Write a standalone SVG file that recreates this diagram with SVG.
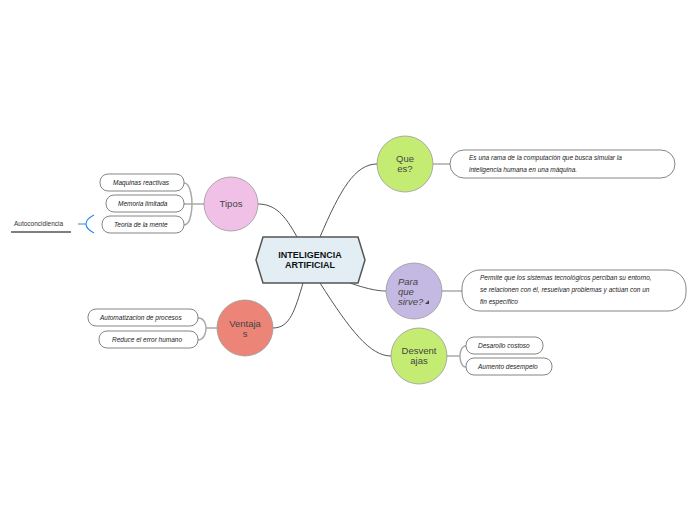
<svg xmlns="http://www.w3.org/2000/svg" width="696" height="520" viewBox="0 0 696 520">
<style>
text{font-family:"Liberation Sans",Arial,sans-serif}
.n{font-size:9.5px;fill:#444;text-anchor:middle}
.l{font-size:6.5px;font-style:italic;fill:#222}
.leaf{fill:#fff;stroke:#666;stroke-width:0.8}
.c{fill:none;stroke:#555;stroke-width:1}
.g{fill:none;stroke:#aaa;stroke-width:1.5}
.circ{stroke:#999;stroke-width:0.8}
</style>
<rect width="696" height="520" fill="#fff"/>
<g id="connectors">
<path class="c" d="M320,237 C340,190 355,164 377,164"/>
<path class="c" d="M350,283 C370,290 380,291 386,291"/>
<path class="c" d="M320,283 C350,330 370,356 391,356"/>
<path class="c" d="M297,237 C285,215 275,204 258,204"/>
<path class="c" d="M303,283 C295,310 290,328 273,328"/>
<path class="g" d="M433,164 H450"/>
<path class="g" d="M442,291 H462"/>
<path class="g" d="M447,356 H460 M466,346 C460,346 460,356 460,356 C460,356 460,367 466,367"/>
<path class="g" d="M204,204 H184 M184,183 C192,183 192,204 192,204 C192,204 192,225 184,225"/>
<path class="g" d="M217,328 H206 M198,318 C206,318 206,328 206,328 C206,328 206,340 198,340"/>
<path d="M78,224 H86 M94,215 C88,218 86,222 86,224 C86,226 88,230 94,233" fill="none" stroke="#2a8cf0" stroke-width="1.2"/>
</g>
<g id="center"><polygon points="263,237 358,237 365,260 358,283 263,283 256,260" fill="#e2eef4" stroke="#555" stroke-width="1.5"/>
<text x="310" y="258" class="n" style="font-weight:bold;fill:#111;font-size:9px">INTELIGENCIA</text><text x="310" y="268" class="n" style="font-weight:bold;fill:#111;font-size:9px">ARTIFICIAL</text></g>
<g id="quees"><circle class="circ" cx="405" cy="164" r="28" fill="#c5ec72"/><text x="405" y="162" class="n">Que</text><text x="405" y="172" class="n">es?</text></g>
<g id="para"><circle class="circ" cx="414" cy="291" r="28" fill="#c3b9e2"/><text x="398" y="285" class="n" style="text-anchor:start;font-style:italic">Para</text><text x="398" y="295" class="n" style="text-anchor:start;font-style:italic">que</text><text x="398" y="305" class="n" style="text-anchor:start;font-style:italic">sirve?</text><polygon points="425,304 429,300 429,304" fill="#444"/></g>
<g id="desv"><circle class="circ" cx="419" cy="356" r="28" fill="#c5ec72"/><text x="419" y="354" class="n">Desvent</text><text x="419" y="364" class="n">ajas</text></g>
<g id="tipos"><circle class="circ" cx="231" cy="204" r="27" fill="#f0c0e6"/><text x="231" y="207" class="n">Tipos</text></g>
<g id="ventajas"><circle class="circ" cx="245" cy="328" r="28" fill="#ec8478"/><text x="245" y="327" class="n">Ventaja</text><text x="245" y="337" class="n">s</text></g>
<g id="leaf-quees"><rect class="leaf" x="450" y="150" width="225" height="28" rx="14"/><text class="l" x="469" y="160">Es una rama de la computación que busca simular la</text><text class="l" x="469" y="172">inteligencia humana en una máquina.</text></g>
<g id="leaf-para"><rect class="leaf" x="462" y="270" width="224" height="41" rx="18"/><text class="l" x="480" y="280">Permite que los sistemas tecnológicos perciban su entorno,</text><text class="l" x="480" y="292">se relacionen con él, resuelvan problemas y actúan con un</text><text class="l" x="480" y="304">fin específico</text></g>
<g id="leaf-d1"><rect class="leaf" x="466" y="337" width="77" height="17" rx="8"/><text class="l" x="478" y="348">Desarollo costoso</text></g>
<g id="leaf-d2"><rect class="leaf" x="466" y="358" width="86" height="17" rx="8"/><text class="l" x="478" y="369">Aumento desempelo</text></g>
<g id="leaf-t1"><rect class="leaf" x="100" y="174" width="84" height="17" rx="8"/><text class="l" x="113" y="185">Maquinas reactivas</text></g>
<g id="leaf-t2"><rect class="leaf" x="106" y="195" width="78" height="17" rx="8"/><text class="l" x="118" y="206">Memoria limitada</text></g>
<g id="leaf-t3"><rect class="leaf" x="102" y="216" width="82" height="17" rx="8"/><text class="l" x="114" y="227">Teoria de la mente</text></g>
<g id="leaf-v1"><rect class="leaf" x="88" y="309" width="110" height="17" rx="8"/><text class="l" x="100" y="320">Automatizacion de procesos</text></g>
<g id="leaf-v2"><rect class="leaf" x="99" y="331" width="99" height="17" rx="8"/><text class="l" x="112" y="342">Reduce el error humano</text></g>
<g id="auto"><text x="14" y="226" style="font-size:6.5px;fill:#333">Autoconcidiencia</text><line x1="11" y1="232" x2="71" y2="232" stroke="#555" stroke-width="1.5"/></g>
</svg>
